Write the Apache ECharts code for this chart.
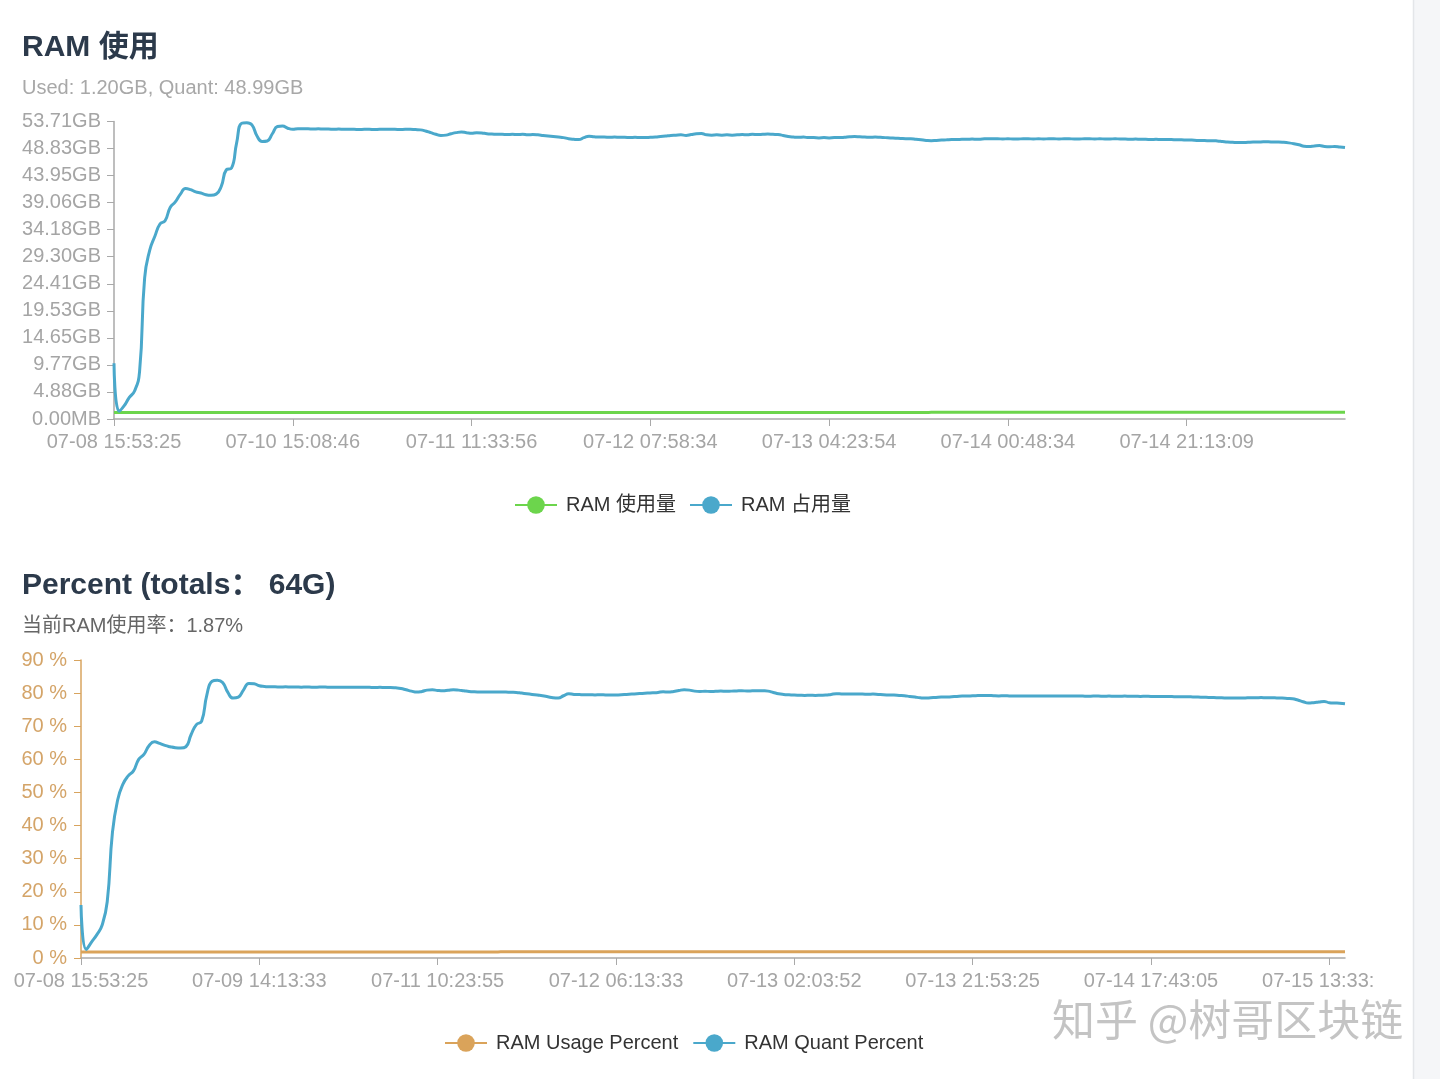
<!DOCTYPE html>
<html><head><meta charset="utf-8">
<script src="https://cdn.jsdelivr.net/npm/echarts@6/dist/echarts.min.js"></script>
<style>html,body{margin:0;padding:0;background:#fff}#c{width:1440px;height:1079px}</style>
</head><body><div id="c"></div>
<script>
// ---------------- data ----------------
const ramTickLabels = ['07-08 15:53:25','07-10 15:08:46','07-11 11:33:56','07-12 07:58:34','07-13 04:23:54','07-14 00:48:34','07-14 21:13:09'];
const pctTickLabels = ['07-08 15:53:25','07-09 14:13:33','07-11 10:23:55','07-12 06:13:33','07-13 02:03:52','07-13 21:53:25','07-14 17:43:05','07-15 13:33:'];
const ramLabelStep = 35;
const pctLabelStep = 34;

// RAM 占用量 (GB)
const quantGB = [
10.07,1.4,2.4,3.9,5.0,8.5,25.5,30.5,33.0,35.2,
35.8,38.2,39.2,40.6,41.6,41.4,41.0,40.8,40.5,40.4,
40.6,42.0,45.0,45.3,49.8,53.4,53.5,53.1,51.1,50.1,
50.2,51.5,52.8,52.9,52.5,52.3,
52.4,52.4,52.4,52.35,52.4,52.35,52.35,52.3,52.35,52.3,
52.3,52.3,52.25,52.3,52.3,52.25,52.3,52.3,52.3,52.3,
52.25,52.3,52.3,52.25,52.2,
52.0,51.7,51.4,51.2,51.25,51.5,51.7,51.8,51.7,51.6,
51.7,51.65,51.5,51.45,51.4,51.4,51.35,51.4,51.35,51.4,
51.3,51.35,51.3,51.2,51.1,51.0,50.9,50.8,50.6,50.5,
50.45,
50.8,51.05,50.95,50.9,50.9,50.85,50.9,50.85,
50.85,50.8,50.85,50.8,50.8,50.85,50.9,51.0,51.1,51.2,
51.25,51.3,51.2,51.35,51.5,51.55,51.3,51.25,51.3,51.25,
51.3,51.25,51.3,51.35,51.3,51.4,51.35,51.4,51.45,51.4,
51.35,
51.2,51.0,50.9,50.85,50.9,50.8,50.8,50.75,50.8,
50.75,50.8,50.8,50.85,50.95,51.0,50.95,50.9,50.85,50.9,
50.85,50.8,50.75,50.7,50.65,50.6,50.6,50.5,50.4,50.3,
50.25,50.3,50.35,50.4,50.45,50.45,50.5,50.5,50.55,50.5,
50.55,50.6,50.6,50.6,50.55,50.6,50.55,50.55,50.6,50.6,
50.55,
50.6,50.55,50.6,50.6,50.55,50.6,50.6,50.55,50.55,50.6,
50.6,50.55,50.6,50.55,50.55,50.6,50.55,50.55,50.5,50.55,
50.5,50.5,50.45,50.5,50.45,50.45,50.45,
50.4,50.4,50.35,50.35,50.3,50.3,50.25,50.25,
50.2,50.1,50.0,49.95,49.9,49.9,
49.95,50.0,50.0,50.05,50.05,50.0,50.0,
49.95,49.85,49.7,49.5,
49.25,49.2,49.3,49.37,49.2,49.15,49.2,49.1,49.0
];

// RAM 使用量 (GB)
const usedGB = [
1.18,1.18,1.18,1.18,1.18,1.18,1.18,1.18,1.18,1.18,
1.18,1.18,1.18,1.18,1.18,1.18,1.18,1.18,1.18,1.18,
1.18,1.18,1.18,1.18,1.18,1.18,1.18,1.18,1.18,1.18,
1.18,1.18,1.18,1.18,1.18,1.18,1.18,1.18,1.18,1.18,
1.18,1.18,1.18,1.18,1.18,1.18,1.18,1.18,1.18,1.18,
1.18,1.18,1.18,1.18,1.18,1.18,1.18,1.18,1.18,1.18,
1.18,1.18,1.18,1.18,1.18,1.18,1.18,1.18,1.18,1.18,
1.18,1.18,1.18,1.18,1.18,1.18,1.18,1.18,1.18,1.18,
1.19,1.19,1.19,1.19,1.19,1.19,1.19,1.19,1.19,1.19,
1.19,1.19,1.19,1.19,1.19,1.19,1.19,1.19,1.19,1.19,
1.19,1.19,1.19,1.19,1.19,1.19,1.19,1.19,1.19,1.19,
1.19,1.19,1.19,1.19,1.19,1.19,1.19,1.19,1.19,1.19,
1.19,1.19,1.19,1.19,1.19,1.19,1.19,1.19,1.19,1.19,
1.19,1.19,1.19,1.19,1.19,1.19,1.19,1.19,1.19,1.19,
1.19,1.19,1.19,1.19,1.19,1.19,1.19,1.19,1.19,1.19,
1.19,1.19,1.19,1.19,1.19,1.19,1.19,1.19,1.19,1.19,
1.20,1.20,1.20,1.20,1.20,1.20,1.20,1.20,1.20,1.20,
1.20,1.20,1.20,1.20,1.20,1.20,1.20,1.20,1.20,1.20,
1.20,1.20,1.20,1.20,1.20,1.20,1.20,1.20,1.20,1.20,
1.20,1.20,1.20,1.20,1.20,1.20,1.20,1.20,1.20,1.20,
1.20,1.20,1.20,1.20,1.20,1.20,1.20,1.20,1.20,1.20,
1.20,1.20,1.20,1.20,1.20,1.20,1.20,1.20,1.20,1.20,
1.20,1.20,1.20,1.20,1.20,1.20,1.20,1.20,1.20,1.20,
1.20,1.20,1.20,1.20,1.20,1.20,1.20,1.20,1.20,1.20,
1.20,1.20
];

// RAM Quant Percent (%)
const quantPct = [
16.0,2.6,4.8,7.0,9.8,17.0,38.0,47.8,52.5,55.0,
56.5,60.0,61.5,64.2,65.3,64.8,64.2,63.8,63.5,63.4,
63.8,67.5,70.5,71.5,79.5,83.6,83.9,83.2,80.2,78.5,
78.8,81.0,82.9,82.8,82.2,82.0,
81.9,81.9,81.85,81.9,81.85,81.85,81.8,81.85,81.8,81.8,
81.85,81.8,81.75,81.8,81.8,81.75,81.8,81.75,81.8,81.75,
81.7,81.75,81.7,81.7,81.6,81.4,
81.0,80.6,80.3,80.5,80.9,81.0,80.8,80.7,80.85,81.0,
80.9,80.7,80.5,80.4,80.35,80.3,80.35,80.3,80.35,80.3,
80.25,80.2,80.0,79.8,79.6,79.4,79.2,78.9,78.6,78.5,
79.2,79.8,79.6,79.55,79.5,79.5,79.45,79.5,
79.45,79.4,79.45,79.5,79.6,79.7,79.8,79.9,80.0,80.1,
80.2,80.4,80.3,80.5,80.8,81.0,80.9,80.6,80.5,80.55,
80.5,80.55,80.6,80.55,80.6,80.65,80.7,80.65,80.7,80.75,
80.7,80.6,
80.2,79.8,79.6,79.5,79.4,79.35,79.3,79.35,
79.3,79.35,79.4,79.6,79.8,79.75,79.7,79.75,79.7,79.7,
79.65,79.7,79.6,79.5,79.45,79.4,79.3,79.2,79.0,78.8,
78.6,78.5,78.6,78.7,78.8,78.8,78.9,79.0,79.1,79.1,
79.2,79.25,79.3,79.3,
79.2,79.15,79.2,79.15,79.1,79.15,
79.1,79.15,79.1,79.1,79.15,79.1,79.1,79.15,79.1,79.1,
79.15,79.1,79.05,79.1,79.1,79.05,79.1,79.05,79.05,79.1,
79.05,79.05,79.0,79.05,79.0,79.0,79.0,
79.0,78.95,78.9,78.9,78.9,78.85,
78.8,78.75,78.7,78.65,78.6,78.55,78.5,78.5,
78.5,78.55,78.6,78.6,78.65,78.6,78.6,78.55,78.5,78.4,78.3,
77.9,77.4,77.0,77.1,77.3,77.5,77.1,77.0,76.95,76.8
];

// RAM Usage Percent (%)
const usedPct = [
1.84,1.84,1.84,1.84,1.84,1.84,1.84,1.84,1.84,1.84,
1.84,1.84,1.84,1.84,1.84,1.84,1.84,1.84,1.84,1.84,
1.84,1.84,1.84,1.84,1.84,1.84,1.84,1.84,1.84,1.84,
1.84,1.84,1.84,1.84,1.84,1.84,1.84,1.84,1.84,1.84,
1.84,1.84,1.84,1.84,1.84,1.84,1.84,1.84,1.84,1.84,
1.84,1.84,1.84,1.84,1.84,1.84,1.84,1.84,1.84,1.84,
1.84,1.84,1.84,1.84,1.84,1.84,1.84,1.84,1.84,1.84,
1.84,1.84,1.84,1.84,1.84,1.84,1.84,1.84,1.84,1.84,
1.85,1.85,1.85,1.85,1.85,1.85,1.85,1.85,1.85,1.85,
1.85,1.85,1.85,1.85,1.85,1.85,1.85,1.85,1.85,1.85,
1.85,1.85,1.85,1.85,1.85,1.85,1.85,1.85,1.85,1.85,
1.85,1.85,1.85,1.85,1.85,1.85,1.85,1.85,1.85,1.85,
1.86,1.86,1.86,1.86,1.86,1.86,1.86,1.86,1.86,1.86,
1.86,1.86,1.86,1.86,1.86,1.86,1.86,1.86,1.86,1.86,
1.86,1.86,1.86,1.86,1.86,1.86,1.86,1.86,1.86,1.86,
1.86,1.86,1.86,1.86,1.86,1.86,1.86,1.86,1.86,1.86,
1.87,1.87,1.87,1.87,1.87,1.87,1.87,1.87,1.87,1.87,
1.87,1.87,1.87,1.87,1.87,1.87,1.87,1.87,1.87,1.87,
1.87,1.87,1.87,1.87,1.87,1.87,1.87,1.87,1.87,1.87,
1.87,1.87,1.87,1.87,1.87,1.87,1.87,1.87,1.87,1.87,
1.87,1.87,1.87,1.87,1.87,1.87,1.87,1.87,1.87,1.87,
1.87,1.87,1.87,1.87,1.87,1.87,1.87,1.87,1.87,1.87,
1.87,1.87,1.87,1.87,1.87,1.87,1.87,1.87,1.87,1.87,
1.87,1.87,1.87,1.87,1.87,1.87,1.87,1.87,1.87,1.87,
1.87,1.87
];

// ---------------- chart ----------------
const FONT = "'Liberation Sans','Noto Sans CJK SC',sans-serif";
const positions = quantGB.map((_, i) => String(i));   // sample positions on the category axis

const C_BLUE = '#4aa8cb', C_GREEN = '#6cd54c', C_ORANGE = '#daa35a';
const AX_GRAY = '#a9a9a9', LBL_GRAY = '#a5a5a5';

function ramLabel(v) {
  const i = Number(v);
  return (i % ramLabelStep === 0 && ramTickLabels[i / ramLabelStep]) || '';
}
function pctLabel(v) {
  const i = Number(v);
  const k = i / pctLabelStep;
  if (i % pctLabelStep !== 0 || !pctTickLabels[k]) return '';
  if (k === pctTickLabels.length - 1) return '{cut|' + pctTickLabels[k] + '}';
  return pctTickLabels[k];
}

const chart = echarts.init(document.getElementById('c'), null, {renderer: 'canvas'});
chart.setOption({
  animation: false,
  backgroundColor: '#fff',
  textStyle: {fontFamily: FONT},
  title: [
    {text: 'RAM 使用', left: 17, top: 28, textStyle: {fontSize: 30, fontWeight: 'bold', color: '#2c3a4b', fontFamily: FONT}},
    {text: 'Used: 1.20GB, Quant: 48.99GB', left: 17, top: 73, textStyle: {fontSize: 20, fontWeight: 'normal', color: '#a8a8a8', fontFamily: FONT}},
    {text: 'Percent (totals： 64G)', left: 17, top: 566, textStyle: {fontSize: 30, fontWeight: 'bold', color: '#2c3a4b', fontFamily: FONT}},
    {text: '当前RAM使用率：1.87%', left: 17, top: 611, textStyle: {fontSize: 20, fontWeight: 'normal', color: '#666', fontFamily: FONT}}
  ],
  legend: [
    {data: ['RAM 使用量', 'RAM 占用量'], left: 509, top: 490, itemWidth: 42, itemHeight: 22, itemGap: 13,
     textStyle: {fontSize: 20, color: '#333', fontFamily: FONT, padding: [0, 0, 0, 4]}},
    {data: ['RAM Usage Percent', 'RAM Quant Percent'], left: 439, top: 1028, itemWidth: 42, itemHeight: 22, itemGap: 14,
     textStyle: {fontSize: 20, color: '#333', fontFamily: FONT, padding: [0, 0, 0, 4]}}
  ],
  grid: [
    {left: 114, right: 95, top: 121.5, height: 297.5, outerBoundsMode: 'none', containLabel: false},
    {left: 81, right: 95, top: 660, height: 298, outerBoundsMode: 'none', containLabel: false}
  ],
  xAxis: [
    {type: 'category', gridIndex: 0, data: positions, boundaryGap: false,
     axisLine: {lineStyle: {color: AX_GRAY, width: 1.5}},
     axisTick: {interval: ramLabelStep - 1, length: 7, lineStyle: {color: AX_GRAY}},
     axisLabel: {interval: ramLabelStep - 1, formatter: ramLabel, color: LBL_GRAY, fontSize: 20, margin: 13, fontFamily: FONT},
     splitLine: {show: false}},
    {type: 'category', gridIndex: 1, data: positions, boundaryGap: false,
     axisLine: {lineStyle: {color: AX_GRAY, width: 1.5}},
     axisTick: {interval: pctLabelStep - 1, length: 7, lineStyle: {color: AX_GRAY}},
     axisLabel: {interval: pctLabelStep - 1, formatter: pctLabel, color: LBL_GRAY, fontSize: 20, margin: 13, fontFamily: FONT,
                 rich: {cut: {fontSize: 20, color: LBL_GRAY, fontFamily: FONT, padding: [0, 22, 0, 0]}}},
     splitLine: {show: false}}
  ],
  yAxis: [
    {type: 'value', gridIndex: 0, min: 0, max: 55000 / 1024, interval: 5000 / 1024,
     axisLine: {show: true, lineStyle: {color: AX_GRAY, width: 1.5}},
     axisTick: {show: true, length: 7, lineStyle: {color: AX_GRAY}},
     axisLabel: {color: LBL_GRAY, fontSize: 20, margin: 13, fontFamily: FONT,
                 formatter: v => v === 0 ? '0.00MB' : v.toFixed(2) + 'GB'},
     splitLine: {show: false}},
    {type: 'value', gridIndex: 1, min: 0, max: 90, interval: 10,
     axisLine: {show: true, lineStyle: {color: '#d8a45f', width: 1.5}},
     axisTick: {show: true, length: 7, lineStyle: {color: '#d8a45f'}},
     axisLabel: {color: '#d4a468', fontSize: 20, margin: 14, fontFamily: FONT, formatter: v => v + ' %'},
     splitLine: {show: false}}
  ],
  series: [
    {name: 'RAM 使用量', type: 'line', xAxisIndex: 0, yAxisIndex: 0, data: usedGB, smooth: true,
     symbol: 'circle', showSymbol: false, lineStyle: {width: 3, color: C_GREEN}, itemStyle: {color: C_GREEN}},
    {name: 'RAM 占用量', type: 'line', xAxisIndex: 0, yAxisIndex: 0, data: quantGB, smooth: true,
     symbol: 'circle', showSymbol: false, lineStyle: {width: 3, color: C_BLUE}, itemStyle: {color: C_BLUE}},
    {name: 'RAM Usage Percent', type: 'line', xAxisIndex: 1, yAxisIndex: 1, data: usedPct, smooth: true,
     symbol: 'circle', showSymbol: false, lineStyle: {width: 3, color: C_ORANGE}, itemStyle: {color: C_ORANGE}},
    {name: 'RAM Quant Percent', type: 'line', xAxisIndex: 1, yAxisIndex: 1, data: quantPct, smooth: true,
     symbol: 'circle', showSymbol: false, lineStyle: {width: 3, color: C_BLUE}, itemStyle: {color: C_BLUE}}
  ],
  graphic: [
    {type: 'rect', left: 1413, top: 0, shape: {width: 27, height: 1079}, style: {fill: '#f5f6f8'}, silent: true},
    {type: 'line', shape: {x1: 1413.5, y1: 0, x2: 1413.5, y2: 1079}, style: {stroke: '#e4e6e9', lineWidth: 1.5}, silent: true},
    {type: 'text', left: 1052, top: 998, style: {text: '知乎 @树哥区块链', fontSize: 43, fill: '#c4c4c4',
      fontFamily: "'Noto Sans CJK SC',sans-serif", textShadowColor: 'rgba(120,120,120,0.5)', textShadowOffsetX: -1, textShadowOffsetY: -1, textShadowBlur: 0}, silent: true}
  ]
});
</script></body></html>
